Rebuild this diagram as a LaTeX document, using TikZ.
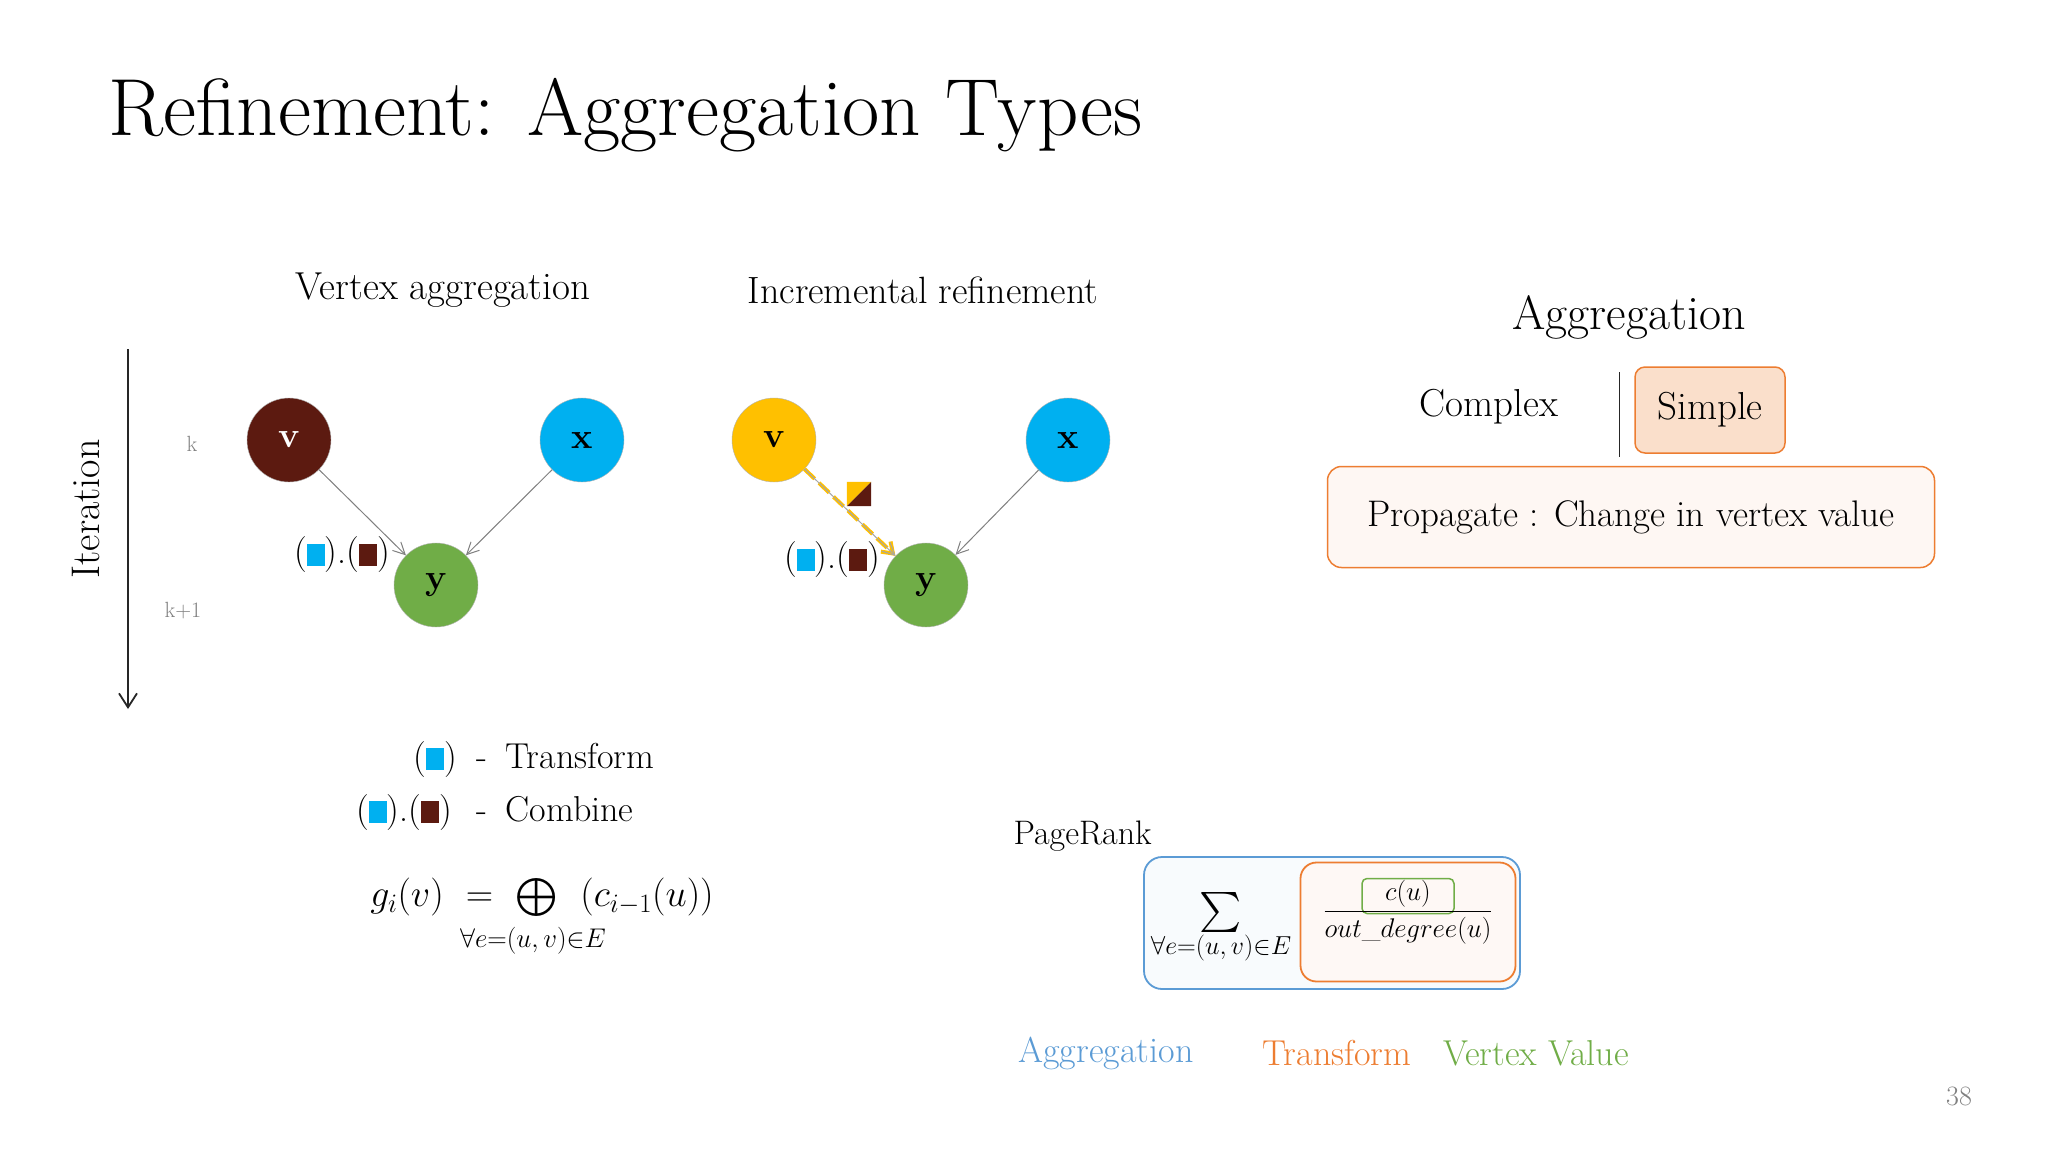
\RequirePackage{fix-cm}
\documentclass[tikz,border=0pt]{standalone}
\usepackage{amsmath,amssymb}
\usetikzlibrary{arrows.meta}
\definecolor{cbrown}{HTML}{5C1A10}
\definecolor{cblue}{HTML}{00B0F0}
\definecolor{cgreen}{HTML}{70AD47}
\definecolor{cyell}{HTML}{FFC000}
\definecolor{corange}{HTML}{ED7D31}
\definecolor{aggblue}{HTML}{5B9BD5}
\newcommand{\fs}[1]{\fontsize{#1}{1.2\dimexpr#1pt\relax}\selectfont}
\newcommand{\bsq}{\textcolor{cblue}{\rule[-0.05em]{0.5em}{0.6em}}}
\newcommand{\rsq}{\textcolor{cbrown}{\rule[-0.05em]{0.5em}{0.6em}}}
\tikzset{
 vtx/.style={circle,minimum size=84pt,inner sep=0pt,draw=gray!60,font=\fs{36}\bfseries},
 body/.style={font=\fs{36}},
 conn/.style={draw=gray,line width=1pt,-{Straight Barb[length=12pt,width=12pt]}},
}
\begin{document}
\begin{tikzpicture}[x=1pt,y=-1pt]
\useasboundingbox[fill=white] (0,0) rectangle (2048,1152);
\node[anchor=base west,font=\fs{81}] (title) at (105,135) {Refinement: Aggregation Types};
\node[body,font=\fs{39}] (h1) at (443,290) {Vertex aggregation};
\node[body,font=\fs{38}] (h2) at (923,290) {Incremental refinement};
% iteration axis
\coordinate (ia) at (128,349); \coordinate (ib) at (128,709);
\draw[line width=1.8pt,gray!30!black,-{Straight Barb[length=14pt,width=18pt]}] (ia) -- (ib);
\node[body,font=\fs{40},rotate=90] (iter) at (86,509) {Iteration};
\node[font=\fs{22},gray] (k) at (192,444) {k};
\node[font=\fs{22},gray] (k1) at (183,611) {k+1};
% left graph
\node[vtx,fill=cbrown,text=white] (v1) at (289,440) {v};
\node[vtx,fill=cblue] (x1) at (582,440) {x};
\node[vtx,fill=cgreen] (y1) at (436,585) {y};
\draw[conn] (v1) -- (y1);
\draw[conn] (x1) -- (y1);
\node[body] (l1) at (342,555) {(\bsq).(\rsq)};
% right graph
\node[vtx,fill=cyell] (v2) at (774,440) {v};
\node[vtx,fill=cblue] (x2) at (1068,440) {x};
\node[vtx,fill=cgreen] (y2) at (926,585) {y};
\draw[cyell,line width=4pt,dashed,dash pattern=on 14pt off 6pt,-{Straight Barb[length=10pt,width=14pt]}] (v2) -- (y2);
\draw[conn,draw=gray!70] (v2) -- (y2);
\draw[conn] (x2) -- (y2);
\node[body] (l2) at (832,560) {(\bsq).(\rsq)};
\node[minimum size=24pt,inner sep=0pt] (sq) at (859,494) {};
\fill[cyell] (sq.north west) -- (sq.north east) -- (sq.south west) -- cycle;
\fill[cbrown] (sq.north east) -- (sq.south east) -- (sq.south west) -- cycle;
% legend
\node[body,anchor=base] (lg1) at (435,768) {(\bsq)};
\node[body,anchor=base] (d1) at (482,768) {-};
\node[body,anchor=base west] (t1) at (502,768) {Transform};
\node[body,anchor=base] (lg2) at (404,821) {(\bsq).(\rsq)};
\node[body,anchor=base] (d2) at (482,821) {-};
\node[body,anchor=base west] (t2) at (502,821) {Combine};
\node[font=\fs{38}] (gf) at (542,897) {$g_i(v)\ =\ \bigoplus\ \ (c_{i-1}(u))$};
\node[font=\fs{27}] (gs) at (533,941) {$\forall e{=}(u,v){\in} E$};
% right section
\node[font=\fs{48}] (agg) at (1629,317) {Aggregation};
\node[body,font=\fs{39}] (cx) at (1489,407) {Complex};
\coordinate (s1) at (1619,372); \coordinate (s2) at (1619,457);
\draw[gray!30!black,line width=1pt] (s1) -- (s2);
\node[draw=corange,fill=corange!25,line width=1.5pt,rounded corners=10pt,minimum width=150pt,minimum height=86pt,body,font=\fs{39}] (simple) at (1710,410) {Simple};
\node[draw=corange,fill=corange!6,line width=1.5pt,rounded corners=14pt,minimum width=607pt,minimum height=101pt,body,font=\fs{37}] (prop) at (1631,517) {Propagate : Change in vertex value};
% PageRank
\node[font=\fs{34},anchor=west] (pr) at (1010,836) {PageRank};
\node[draw=aggblue,fill=aggblue!4,line width=1.8pt,rounded corners=18pt,minimum width=376pt,minimum height=132pt] (bb) at (1332,923) {};
\node[draw=corange,fill=corange!5,line width=1.8pt,rounded corners=16pt,minimum width=215pt,minimum height=119pt] (ob) at (1408,922) {};
\node[draw=cgreen,line width=1.5pt,rounded corners=5pt,minimum width=92pt,minimum height=35pt] (gb) at (1408,896) {};
\node[font=\fs{40}] (sum) at (1221,912) {$\sum$};
\node[font=\fs{26}] (sumsub) at (1221,948) {$\forall e{=}(u,v){\in} E$};
\node[font=\fs{27}] (frac) at (1408,912) {$\dfrac{c(u)}{out\_degree(u)}$};
% bottom labels
\node[body,text=aggblue] (la) at (1106,1053) {Aggregation};
\node[body,text=corange] (lt) at (1337,1053) {Transform};
\node[body,text=cgreen] (lv) at (1536,1053) {Vertex Value};
\node[font=\fs{28},gray] (pg) at (1959,1096) {38};
\end{tikzpicture}
\end{document}
